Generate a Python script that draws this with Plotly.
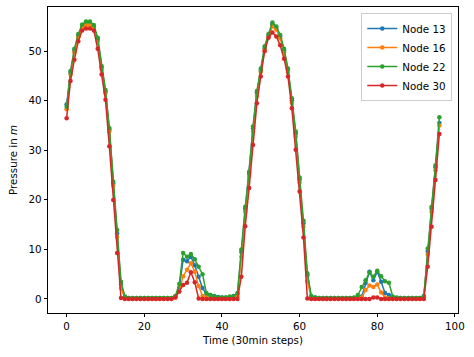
import plotly.graph_objects as go

steps = list(range(97))

node13 = [39.3, 45.7, 50.2, 53.2, 55.1, 55.7, 55.7, 55.0, 52.4, 46.7,
          41.9, 34.2, 23.3, 13.2, 3.0, 0.4, 0.2, 0.2, 0.2, 0.2,
          0.2, 0.2, 0.2, 0.2, 0.2, 0.2, 0.2, 0.2, 0.5, 2.2,
          7.9, 7.6, 8.5, 6.8, 4.5, 2.2, 1.0, 0.8, 0.6, 0.4,
          0.3, 0.3, 0.3, 0.6, 1.0, 9.5, 18.2, 25.3, 34.4, 41.6,
          46.1, 50.6, 53.2, 55.4, 54.7, 53.0, 50.2, 46.2, 40.1, 33.4,
          24.1, 15.3, 4.8, 0.5, 0.3, 0.2, 0.2, 0.2, 0.2, 0.2,
          0.2, 0.2, 0.2, 0.2, 0.2, 0.3, 0.5, 3.2, 5.5, 3.8,
          5.5, 3.5, 1.2, 0.8, 0.3, 0.2, 0.2, 0.2, 0.2, 0.2,
          0.2, 0.2, 0.5, 9.6, 18.2, 26.6, 35.5]

node16 = [38.3, 45.3, 49.8, 52.8, 54.7, 55.3, 55.3, 54.6, 52.0, 46.3,
          41.5, 33.8, 22.8, 12.5, 2.2, 0.2, 0.1, 0.1, 0.1, 0.1,
          0.1, 0.1, 0.1, 0.1, 0.1, 0.1, 0.1, 0.1, 0.3, 1.5,
          4.6, 5.9, 7.2, 5.5, 2.6, 0.6, 0.3, 0.1, 0.1, 0.1,
          0.1, 0.1, 0.1, 0.1, 0.5, 8.5, 17.6, 24.8, 33.8, 41.0,
          45.8, 50.3, 52.9, 55.0, 54.4, 52.6, 49.8, 45.8, 39.6, 32.8,
          23.5, 14.6, 3.6, 0.3, 0.1, 0.1, 0.1, 0.1, 0.1, 0.1,
          0.1, 0.1, 0.1, 0.1, 0.1, 0.1, 0.3, 1.8, 2.7, 2.4,
          2.9, 1.3, 0.3, 0.1, 0.1, 0.1, 0.1, 0.1, 0.1, 0.1,
          0.1, 0.1, 0.3, 9.0, 17.6, 26.0, 35.0]

node22 = [38.8, 46.0, 50.5, 53.5, 55.4, 56.0, 56.0, 55.3, 52.7, 47.0,
          42.2, 34.5, 23.7, 13.9, 3.5, 0.5, 0.2, 0.2, 0.2, 0.2,
          0.2, 0.2, 0.2, 0.2, 0.2, 0.2, 0.2, 0.2, 0.6, 3.0,
          9.3, 8.5, 9.1, 8.0, 6.5, 5.0, 1.2, 0.8, 0.5, 0.3,
          0.3, 0.3, 0.5, 0.5, 1.2, 10.0, 18.6, 25.7, 34.8, 42.0,
          46.5, 51.0, 53.5, 55.8, 55.0, 53.3, 50.5, 46.5, 40.5, 33.8,
          24.5, 15.8, 5.2, 0.6, 0.3, 0.2, 0.2, 0.2, 0.2, 0.2,
          0.2, 0.2, 0.2, 0.2, 0.3, 0.8, 2.4, 3.8, 5.3, 4.5,
          5.7, 4.6, 3.6, 3.3, 0.5, 0.3, 0.2, 0.2, 0.2, 0.2,
          0.2, 0.2, 0.6, 10.2, 18.6, 27.0, 36.7]

node30 = [36.5, 44.0, 48.3, 52.0, 54.2, 54.6, 54.6, 54.2, 50.5, 45.3,
          40.2, 30.8, 20.0, 9.3, 0.2, 0.0, 0.0, 0.0, 0.0, 0.0,
          0.0, 0.0, 0.0, 0.0, 0.0, 0.0, 0.0, 0.0, 0.3, 1.5,
          2.8, 3.3, 5.4, 3.4, 0.1, 0.0, 0.0, 0.0, 0.0, 0.0,
          0.0, 0.0, 0.0, 0.0, 0.0, 4.5, 14.7, 22.4, 31.1, 39.5,
          44.9, 50.0, 52.7, 53.8, 53.0, 51.2, 48.5, 44.9, 38.5, 30.1,
          21.7, 12.4, 0.1, 0.0, 0.0, 0.0, 0.0, 0.0, 0.0, 0.0,
          0.0, 0.0, 0.0, 0.0, 0.0, 0.0, 0.0, 0.0, 0.0, 0.3,
          0.3, 0.0, 0.0, 0.0, 0.0, 0.0, 0.0, 0.0, 0.0, 0.0,
          0.0, 0.0, 0.0, 6.5, 14.6, 24.0, 33.3]

series_names = ["Node 13", "Node 16", "Node 22", "Node 30"]
series_values = [node13, node16, node22, node30]
colors = ["#1f77b4", "#ff7f0e", "#2ca02c", "#d62728"]

x_ticks = [0, 20, 40, 60, 80, 100]
y_ticks = [0, 10, 20, 30, 40, 50]

FONT = "DejaVu Sans"
FS = 10.3

fig = go.Figure()
for name, vals, col in zip(series_names, series_values, colors):
    fig.add_trace(go.Scatter(
        x=steps, y=vals, name=name, mode="lines+markers",
        line=dict(color=col, width=1.5),
        marker=dict(color=col, size=4.5),
    ))

axis_common = dict(
    showgrid=False, zeroline=False, showline=True, mirror=True,
    linecolor="black", linewidth=0.8, ticks="outside", ticklen=3.5,
    tickwidth=0.8, tickcolor="black", automargin=False,
    tickfont=dict(family=FONT, size=FS, color="black"),
)

fig.update_layout(
    width=474, height=357,
    margin=dict(l=48, r=16, t=7, b=44),
    paper_bgcolor="white", plot_bgcolor="white",
    font=dict(family=FONT, size=FS, color="black"),
    xaxis=dict(range=[-4.8, 100.8], tickvals=x_ticks,
               title=dict(text="Time (30min steps)", font=dict(family=FONT, size=FS), standoff=6),
               **axis_common),
    yaxis=dict(range=[-2.83, 58.93], tickvals=y_ticks,
               title=dict(text="Pressure in <i>m</i>", font=dict(family=FONT, size=FS), standoff=8),
               **axis_common),
    legend=dict(x=0.986, y=0.98, xanchor="right", yanchor="top",
                bgcolor="rgba(255,255,255,0.8)", bordercolor="#cccccc", borderwidth=1,
                font=dict(family=FONT, size=FS, color="black"), itemwidth=30,
                tracegroupgap=0),
    showlegend=True,
)

fig.write_html("out.html",
               config={"displayModeBar": False},
               post_script="document.body.style.margin='0px';document.body.style.overflow='hidden';")
